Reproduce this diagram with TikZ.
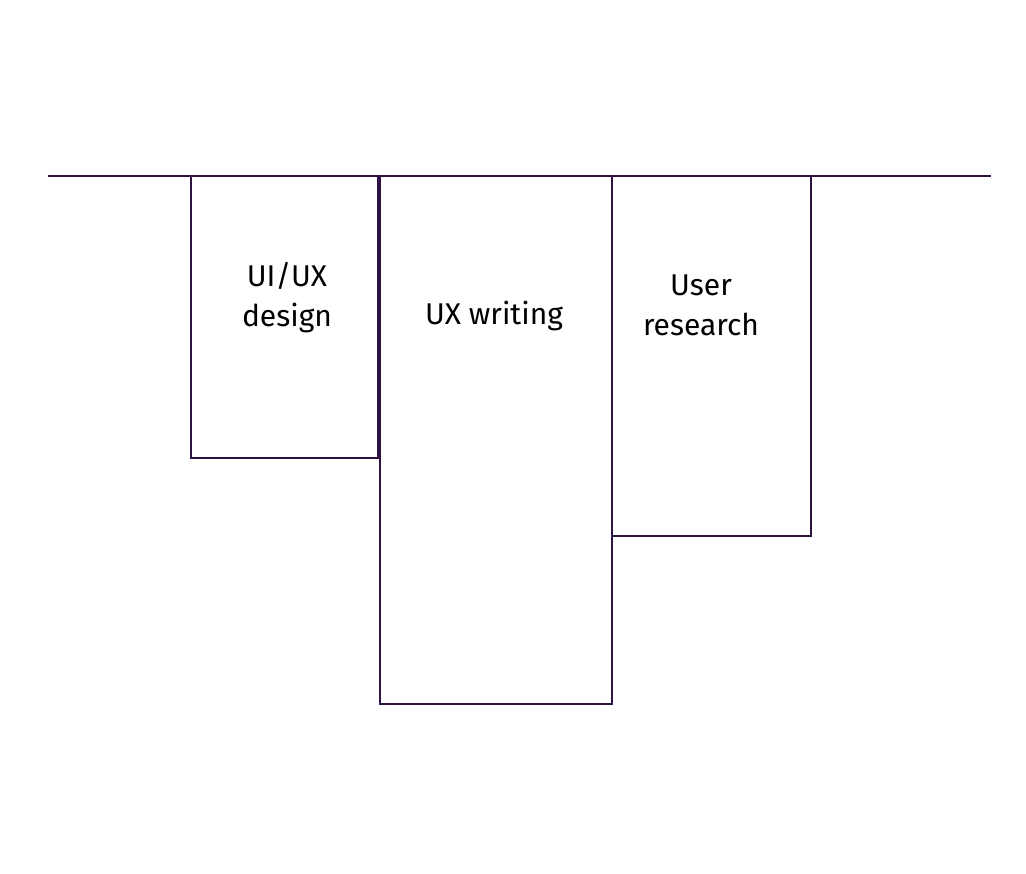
\documentclass[tikz,border=0pt]{standalone}
\usepackage{fontspec}
\setmainfont{Fira Sans}
\definecolor{ink}{HTML}{2D1242}
\begin{document}
\begin{tikzpicture}[x=1pt,y=-1pt,
  box/.style={draw=ink,line width=2.8pt,anchor=north west,inner sep=0pt,outer sep=0pt},
  lbl/.style={font=\fontsize{30}{40}\selectfont,align=center,text=black}]
\useasboundingbox (0,0) rectangle (1026,874);
\coordinate (L) at (48,176);
\coordinate (R) at (991,176);
\draw[ink,line width=2.8pt] (L) -- (R);
\node[box,minimum width=187pt,minimum height=282pt] (b1) at (191,176) {};
\node[box,minimum width=232pt,minimum height=528pt] (b2) at (380,176) {};
\node[box,minimum width=199pt,minimum height=360pt] (b3) at (612,176) {};
\node[lbl] (t1) at (287,298) {UI/UX\\design};
\node[lbl] (t2) at (494,316) {UX writing};
\node[lbl] (t3) at (701,305) {User\\research};
\end{tikzpicture}
\end{document}
